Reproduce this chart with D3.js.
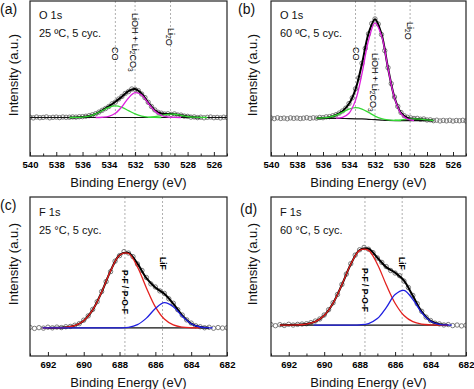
<!DOCTYPE html>
<html>
<head>
<meta charset="utf-8">
<script src="https://cdn.jsdelivr.net/npm/d3@7"></script>
<style>
  body { margin: 0; background: #fff; }
  svg { font-family: "Liberation Sans", Arial, sans-serif; }
</style>
</head>
<body>
<svg id="chart" width="474" height="389"></svg>
<script>
// ---------- axis ticks and reference lines ----------
const o1sMajor = [540, 538, 536, 534, 532, 530, 528, 526];
const o1sMinor = [539, 537, 535, 533, 531, 529, 527, 525];
const f1sMajor = [692, 690, 688, 686, 684, 682];
const f1sMinor = [693, 691, 689, 687, 685, 683];

const o1sRefs = [533.5, 532.0, 529.3];
const o1sRefLabels = ["CO", "LiOH + Li2CO3", "Li2O"];
const f1sRefs = [687.7, 685.6];
const f1sRefLabels = ["P-F / P-O-F", "LiF"];

// ---------- (a) O 1s, 25 C ----------
const aPoints = [[540,0.3],[539.75,-0.4],[539.5,0.5],[539.25,-0.2],[539,0.1],[538.75,0.6],[538.5,-0.3],[538.25,0.2],
  [538,0.4],[537.75,-0.1],[537.5,0.5],[537.25,0.2],[537,0.3],[536.75,0.6],[536.5,0.4],[536.25,0.8],[536,0.9],
  [535.75,1.3],[535.5,1.9],[535.25,2.8],[535,3.9],[534.75,5.6],[534.5,7.5],[534.25,9.3],[534,11.4],[533.75,14.2],
  [533.5,16.0],[533.25,19.2],[533,21.9],[532.75,25.0],[532.5,27.0],[532.25,29.6],[532,29.3],[531.75,27.9],
  [531.5,24.4],[531.25,20.7],[531,15.8],[530.75,11.4],[530.5,7.9],[530.25,5.4],[530,4.5],[529.75,3.6],[529.5,3.9],
  [529.25,3.2],[529,3.7],[528.75,2.6],[528.5,2.5],[528.25,1.4],[528,1.2],[527.75,0.4],[527.5,0.6],[527.25,-0.1],
  [527,0.3],[526.75,-0.3],[526.5,0.2],[526.25,0.5],[526,-0.2],[525.75,0.1],[525.5,-0.4],[525.25,0.3],[525,0.0]];
const aEnvelope = [[537,0],[536.5,0.1],[536,0.45],[535.5,1.5],[535,3.7],[534.5,7.3],[534,11.7],[533.5,16.4],
  [533,21.7],[532.5,27.4],[532,29.5],[531.5,24.8],[531,15.5],[530.5,7.6],[530,4.1],[529.5,3.7],[529,3.5],
  [528.5,2.3],[528,1.0],[527.5,0.3],[527,0.06]];
const aBaseline = [[540,0],[525,0]];
const aCO = [[537,0],[536.5,0.1],[536,0.45],[535.5,1.5],[535,3.7],[534.5,7.1],[534,10.5],[533.5,12],[533,10.5],
  [532.5,7.1],[532,3.7],[531.5,1.5],[531,0.45],[530.5,0.1],[530,0]];
const aLiOH = [[535,0],[534.5,0.24],[534,1.2],[533.5,4.4],[533,11.2],[532.5,20.3],[532,25.8],[531.5,23.3],
  [531,14.8],[530.5,6.7],[530,2.1],[529.5,0.5],[529,0.1],[528.5,0]];
const aLi2O = [[531,0.2],[530.5,0.8],[530,2.0],[529.5,3.2],[529,3.4],[528.5,2.3],[528,1.0],[527.5,0.3],
  [527,0.06],[526.5,0]];

// ---------- (b) O 1s, 60 C ----------
const bPoints = [[540,-0.5],[539.75,-1.2],[539.5,-0.3],[539.25,-1.0],[539,-0.6],[538.75,-1.3],[538.5,-0.4],
  [538.25,-0.9],[538,-0.5],[537.75,-1.1],[537.5,-0.7],[537.25,-0.2],[537,-0.9],[536.75,-0.3],[536.5,-0.6],
  [536.25,0.1],[536,-0.2],[535.75,0.7],[535.5,0.9],[535.25,1.8],[535,2.9],[534.75,4.6],[534.5,6.8],[534.25,9.7],
  [534,14.5],[533.75,20.4],[533.5,29.8],[533.25,41.2],[533,56.4],[532.75,71.8],[532.5,86.9],[532.25,97.6],
  [532,102.4],[531.75,97.1],[531.5,86.2],[531.25,69.5],[531,51.8],[530.75,35.2],[530.5,21.3],[530.25,11.5],
  [530,5.2],[529.75,1.8],[529.5,0.2],[529.25,-0.4],[529,-1.0],[528.75,-0.9],[528.5,-1.8],[528.25,-1.5],
  [528,-2.6],[527.75,-2.4],[527.5,-3.3],[527.25,-2.8],[527,-3.6],[526.75,-3.0],[526.5,-3.5],[526.25,-2.9],
  [526,-3.7],[525.75,-3.1],[525.5,-3.4],[525.25,-2.9],[525,-3.6]];
const bEnvelope = [[536.5,-0.7],[536,-0.45],[535.5,0.4],[535,2.6],[534.5,6.55],[534,14.2],[533.5,29.3],
  [533,55.9],[532.5,87.2],[532,102.2],[531.5,86.7],[531,51.5],[530.5,20.8],[530,4.7],[529.5,-0.55],[529,-1.3],
  [528.5,-1.7],[528,-2.5],[527.5,-3.1]];
const bBaseline = [[536.5,-0.8],[535,-0.9],[534,-1.1],[533,-1.5],[532.5,-1.9],[532,-2.3],[531.5,-2.7],
  [531,-3.0],[530,-3.2],[529,-3.3],[527.5,-3.4]];
const bCO = [[536.5,-0.7],[536,-0.45],[535.5,0.4],[535,2.4],[534.5,5.45],[534,8.7],[533.5,10.2],[533,8.8],
  [532.5,5.3],[532,1.5],[531.5,-1.1],[531,-2.5],[530.5,-3.0],[530,-3.2]];
const bLiOH = [[535,-0.7],[534.5,0.1],[534,4.4],[533.5,17.8],[533,45.6],[532.5,80.0],[532,98.4],[531.5,85.1],
  [531,51.0],[530.5,20.4],[530,4.0],[529.5,-1.75],[529,-3.1]];
const bLi2O = [[530.5,-2.8],[530,-2.5],[529.5,-2.05],[529,-1.5],[528.5,-1.73],[528,-2.47],[527.5,-3.1]];

// ---------- (c) F 1s, 25 C ----------
const cPoints = [[693,0.6],[692.75,-0.5],[692.5,0.3],[692.25,-0.2],[692,0.8],[691.75,0.1],[691.5,0.9],
  [691.25,0.4],[691,1.3],[690.75,1.6],[690.5,2.9],[690.25,4.6],[690,8.3],[689.75,12.9],[689.5,19.8],[689.25,28.1],
  [689,38.9],[688.75,49.6],[688.5,60.2],[688.25,71.4],[688,77.3],[687.75,81.6],[687.5,80.1],[687.25,76.2],
  [687,68.4],[686.75,61.5],[686.5,53.9],[686.25,47.1],[686,43.8],[685.75,39.6],[685.5,36.9],[685.25,31.2],
  [685,26.4],[684.75,19.5],[684.5,13.8],[684.25,8.6],[684,5.2],[683.75,2.4],[683.5,1.3],[683.25,0.2],[683,0.7],
  [682.75,-0.3],[682.5,0.4],[682.25,-0.1],[682,0.2]];
const cEnvelope = [[692,0],[691.5,0.13],[691,0.65],[690.5,2.5],[690,7.8],[689.5,19.3],[689,38.3],[688.5,61],
  [688,77.9],[687.5,80.3],[687,68.7],[686.5,53.3],[686,43.3],[685.5,36.5],[685,25.9],[684.5,13.4],[684,4.7],
  [683.5,1.0],[683,0.15]];
const cBaseline = [[692.3,0],[683,0]];
const cPF = [[692.3,0],[692,0],[691.5,0.13],[691,0.65],[690.5,2.5],[690,7.8],[689.5,19.3],[689,38.3],[688.5,61],
  [688,77.8],[687.5,79.6],[687,65.2],[686.5,42.8],[686,22.5],[685.5,9.5],[685,3.2],[684.5,0.9],[684,0.2],[683.5,0]];
const cLiF = [[692.3,0],[688.5,0],[688,0.1],[687.5,0.7],[687,3.5],[686.5,10.5],[686,20.8],[685.5,27],[685,22.7],
  [684.5,12.5],[684,4.5],[683.5,1.0],[683,0.15],[682.8,0]];

// ---------- (d) F 1s, 60 C ----------
const dPoints = [[693,3.6],[692.75,2.4],[692.5,3.5],[692.25,2.7],[692,3.9],[691.75,3.1],[691.5,3.8],[691.25,4.2],
  [691,4.5],[690.75,5.7],[690.5,7.4],[690.25,9.6],[690,13.8],[689.75,19.5],[689.5,26.9],[689.25,35.8],[689,46.5],
  [688.75,57.6],[688.5,68.7],[688.25,77.9],[688,83.6],[687.75,86.1],[687.5,84.2],[687.25,80.6],[687,74.8],
  [686.75,70.1],[686.5,65.6],[686.25,61.4],[686,58.7],[685.75,55.9],[685.5,50.1],[685.25,43.2],[685,34.8],
  [684.75,25.9],[684.5,17.8],[684.25,11.6],[684,7.9],[683.75,5.1],[683.5,4.3],[683.25,3.2],[683,3.6],
  [682.75,2.5],[682.5,3.1],[682.25,2.2],[682,2.9]];
const dEnvelope = [[692.5,3],[692,3.05],[691.5,3.3],[691,4.1],[690.5,6.7],[690,13.3],[689.5,26.4],[689,46.2],
  [688.5,68.1],[688,83.3],[687.5,84.7],[687,75.1],[686.5,65],[686,59.1],[685.5,50.5],[685,34.3],[684.5,17.4],
  [684,7.5],[683.5,3.95],[683,3.1]];
const dBaseline = [[692.5,3],[683,3]];
const dPF = [[692.5,3],[692,3.05],[691.5,3.3],[691,4.1],[690.5,6.7],[690,13.3],[689.5,26.4],[689,46.2],[688.5,68.1],
  [688,83],[687.5,83],[687,68.1],[686.5,46.2],[686,26.4],[685.5,13.3],[685,6.7],[684.5,4.1],[684,3.3],[683.5,3.05],[683,3]];
const dLiF = [[690.6,3],[688.5,3],[688,3.3],[687.5,4.7],[687,10],[686.5,21.8],[686,35.7],[685.5,40.2],[685,30.6],
  [684.5,16.3],[684,7.2],[683.5,3.9],[683,3.1],[682.8,3]];

// ---------- layout of the four panels ----------
const GREEN = "#35d935", MAGENTA = "#dd1fdd", RED = "#e3201e", BLUE = "#1f1fe0";

const panels = [
  {letter: "(a)", lx: 0, ly: 14, left: 30, right: 227, top: 1, bottom: 156, yRange: [156, 2], yDomain: [-40, 120],
   xDomain: [540, 525], major: o1sMajor, minor: o1sMinor, element: "O 1s", cond: "25 ºC, 5 cyc.", ey: 19, cy: 36.5,
   titleX: 13, titleY: 75,
   points: aPoints, envelope: aEnvelope, baseline: aBaseline,
   comps: [[aCO, GREEN], [aLi2O, GREEN], [aLiOH, MAGENTA]],
   refs: o1sRefs, refLabels: o1sRefLabels, labelY: [47, 13, 28], labelBold: false},
  {letter: "(b)", lx: 238, ly: 14, left: 271, right: 466, top: 1, bottom: 156, yRange: [156, 2], yDomain: [-40, 120],
   xDomain: [540, 525], major: o1sMajor, minor: o1sMinor, element: "O 1s", cond: "60 ºC, 5 cyc.", ey: 19, cy: 36.5,
   titleX: 252, titleY: 75,
   points: bPoints, envelope: bEnvelope, baseline: bBaseline,
   comps: [[bCO, GREEN], [bLi2O, GREEN], [bLiOH, MAGENTA]],
   refs: o1sRefs, refLabels: o1sRefLabels, labelY: [47, 53, 22], labelBold: false},
  {letter: "(c)", lx: 0, ly: 210, left: 30, right: 227, top: 197, bottom: 356, yRange: [356, 197], yDomain: [-30, 140],
   xDomain: [693, 682], major: f1sMajor, minor: f1sMinor, element: "F 1s", cond: "25 °C, 5 cyc.", ey: 215.5, cy: 234,
   titleX: 13, titleY: 264,
   points: cPoints, envelope: cEnvelope, baseline: cBaseline,
   comps: [[cPF, RED], [cLiF, BLUE]],
   refs: f1sRefs, refLabels: f1sRefLabels, labelY: [270, 257], labelBold: true},
  {letter: "(d)", lx: 240, ly: 214, left: 271, right: 466, top: 197, bottom: 356, yRange: [356, 197], yDomain: [-30, 140],
   xDomain: [693, 682], major: f1sMajor, minor: f1sMinor, element: "F 1s", cond: "60 °C, 5 cyc.", ey: 215.5, cy: 234,
   titleX: 252, titleY: 264,
   points: dPoints, envelope: dEnvelope, baseline: dBaseline,
   comps: [[dPF, RED], [dLiF, BLUE]],
   refs: f1sRefs, refLabels: f1sRefLabels, labelY: [268, 257], labelBold: true}
];

const svg = d3.select("#chart");

panels.forEach((p, i) => {
  const x = d3.scaleLinear().domain(p.xDomain).range([p.left, p.right]);
  const y = d3.scaleLinear().domain(p.yDomain).range(p.yRange);
  const g = svg.append("g");

  const clipId = "clip" + i;
  g.append("clipPath").attr("id", clipId).append("rect")
    .attr("x", p.left).attr("y", p.top)
    .attr("width", p.right - p.left).attr("height", p.bottom - p.top);

  const plot = g.append("g").attr("clip-path", "url(#" + clipId + ")");

  // dotted reference lines
  plot.selectAll(".ref").data(p.refs).enter().append("line")
    .attr("x1", d => x(d)).attr("x2", d => x(d))
    .attr("y1", p.top).attr("y2", p.bottom)
    .attr("stroke", "#9a9a9a").attr("stroke-width", 0.8).attr("stroke-dasharray", "2,2");

  const line = d3.line()
    .x(d => x(d[0])).y(d => y(d[1]))
    .curve(d3.curveCatmullRom.alpha(0.5));

  // measured points
  plot.selectAll(".pt").data(p.points).enter().append("circle")
    .attr("cx", d => x(d[0])).attr("cy", d => y(d[1])).attr("r", 2.2)
    .attr("fill", "none").attr("stroke", "#6e6e6e").attr("stroke-width", 0.9);

  // envelope, background and fitted components
  plot.append("path").attr("d", line(p.envelope))
    .attr("fill", "none").attr("stroke", "#000").attr("stroke-width", 2);
  plot.append("path").attr("d", line(p.baseline))
    .attr("fill", "none").attr("stroke", "#111").attr("stroke-width", 1.2);
  p.comps.forEach(c => {
    plot.append("path").attr("d", line(c[0]))
      .attr("fill", "none").attr("stroke", c[1]).attr("stroke-width", 1.3);
  });

  // rotated peak labels, digits as subscripts
  p.refs.forEach((e, k) => {
    const t = g.append("text")
      .attr("transform", `translate(${x(e)},${p.labelY[k]}) rotate(90)`)
      .attr("dominant-baseline", "central")
      .attr("font-size", p.labelBold ? 8.5 : 9)
      .attr("font-weight", p.labelBold ? "bold" : "normal")
      .attr("fill", "#000");
    p.refLabels[k].split(/(\d)/).filter(s => s.length).forEach(s => {
      if (/\d/.test(s)) {
        t.append("tspan").attr("font-size", 6.5).attr("dy", 2).text(s);
        t.append("tspan").attr("dy", -2).text("");
      } else {
        t.append("tspan").text(s);
      }
    });
  });

  // frame
  g.append("rect")
    .attr("x", p.left).attr("y", p.top)
    .attr("width", p.right - p.left).attr("height", p.bottom - p.top)
    .attr("fill", "none").attr("stroke", "#222").attr("stroke-width", 1.2);

  // bottom axis, ticks pointing inward
  const major = d3.axisBottom(x).tickValues(p.major).tickSize(-4).tickPadding(5).tickFormat(d3.format("d"));
  const minor = d3.axisBottom(x).tickValues(p.minor).tickSize(-2.5).tickFormat("");
  [major, minor].forEach(ax => {
    g.append("g").attr("transform", `translate(0,${p.bottom})`).call(ax)
      .attr("font-family", null).attr("font-size", 9.5).style("color", "#222")
      .call(s => s.select(".domain").remove())
      .call(s => s.selectAll("text").attr("font-weight", "bold").attr("fill", "#000"));
  });

  // titles and annotations
  g.append("text").attr("x", (p.left + p.right) / 2).attr("y", p.bottom + 31)
    .attr("text-anchor", "middle").attr("font-size", 13).attr("fill", "#111")
    .text("Binding Energy (eV)");
  g.append("text").attr("transform", `translate(${p.titleX},${p.titleY}) rotate(-90)`)
    .attr("text-anchor", "middle").attr("dominant-baseline", "central")
    .attr("font-size", 13).attr("fill", "#111").text("Intensity (a.u.)");
  g.append("text").attr("x", p.lx).attr("y", p.ly)
    .attr("font-size", 14).attr("fill", "#111").text(p.letter);
  g.append("text").attr("x", p.left + 9).attr("y", p.ey)
    .attr("font-size", 11).attr("fill", "#111").text(p.element);
  g.append("text").attr("x", p.left + 9).attr("y", p.cy)
    .attr("font-size", 11).attr("fill", "#111").text(p.cond);
});
</script>
</body>
</html>
